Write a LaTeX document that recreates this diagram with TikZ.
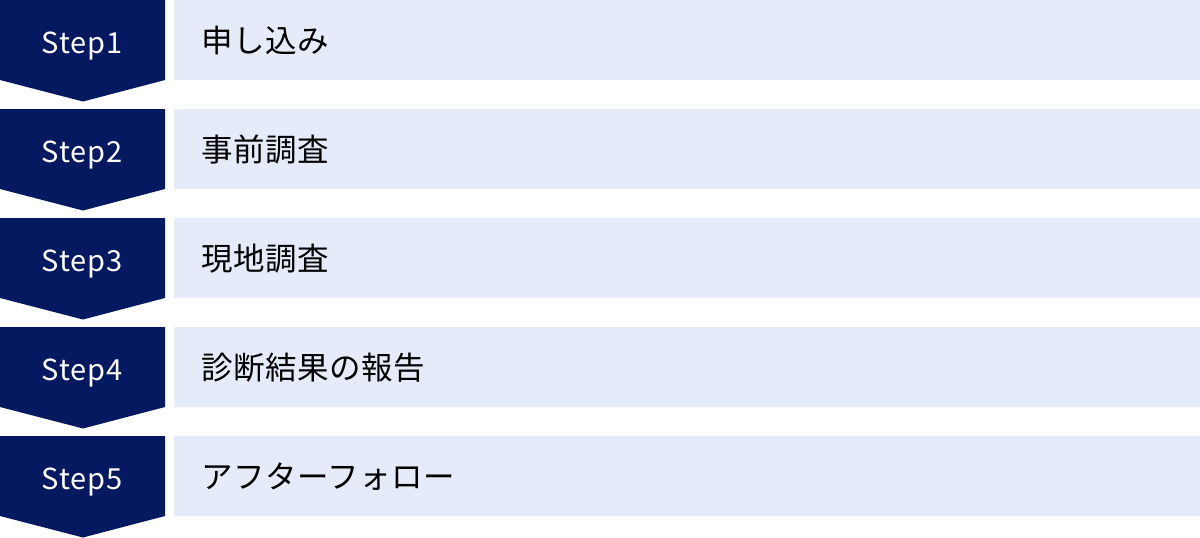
\documentclass[tikz,border=0pt]{standalone}
\usepackage{fontspec}
\usepackage{tikz}
\newfontfamily\jpfont[LetterSpace=1.5]{Noto Sans CJK JP}
\newfontfamily\stepfont[LetterSpace=3]{Noto Sans CJK JP}
\definecolor{navy}{RGB}{5,25,96}
\definecolor{paleblue}{RGB}{229,235,248}
\newcommand{\drawstep}[3]{
    % #1 = step number, #2 = top edge, #3 = label
    % dark arrow block on the left
    \fill[navy] (0,#2) -- (165,#2) -- (165,#2+80) -- (83,#2+101.5) -- (0,#2+80) -- cycle;
    \node[steplabel] (step#1) at (82,#2+53) {Step#1};

    % pale band with the text
    \fill[paleblue] (174,#2) rectangle (1200,#2+80);
    \node[bandlabel] (task#1) at (201,#2+52) {#3};
}

\begin{document}
\begin{tikzpicture}[x=1pt, y=-1pt,
    steplabel/.style={anchor=base, text=white, font=\stepfont\fontsize{29}{29}\selectfont, inner sep=0pt},
    bandlabel/.style={anchor=base west, text=black, font=\jpfont\fontsize{31.5}{31.5}\selectfont, inner sep=0pt}]

    \useasboundingbox (0,0) rectangle (1200,538);

    % five steps, 109 apart
    \foreach \n/\txt in {1/申し込み, 2/事前調査, 3/現地調査, 4/診断結果の報告, 5/アフターフォロー}
    {
        \pgfmathsetmacro{\stepy}{(\n-1)*109}
        \drawstep{\n}{\stepy}{\txt}
    }

\end{tikzpicture}
\end{document}
